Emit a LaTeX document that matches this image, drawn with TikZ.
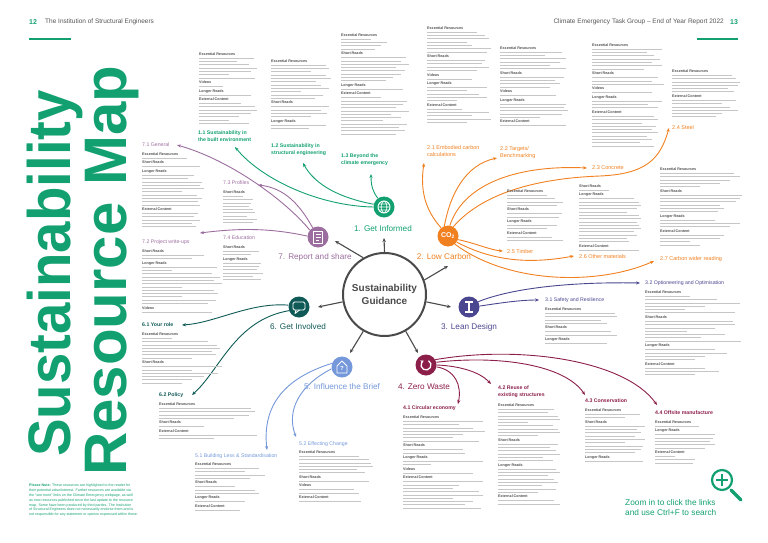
\documentclass[tikz,border=0pt]{standalone}
\usepackage{fontspec}
\setmainfont{Liberation Sans}
\usepackage{graphicx}
\usetikzlibrary{arrows.meta}
\setlength\parindent{0pt}
\definecolor{cg}{HTML}{12A070}
\definecolor{corange}{HTML}{F08020}
\definecolor{cnavy}{HTML}{4A468F}
\definecolor{cmaroon}{HTML}{8C1F4A}
\definecolor{cblue}{HTML}{7498DA}
\definecolor{cteal}{HTML}{0F5A56}
\definecolor{cmauve}{HTML}{9C6D9F}
\definecolor{cdark}{HTML}{4A4A4A}
\definecolor{hdc}{HTML}{505050}
\definecolor{txc}{HTML}{C6C6C6}
\definecolor{hgray}{HTML}{555555}
\newcommand\rmH[1]{\par\vspace{1pt}{\fontsize{3.7}{4.2}\selectfont\bfseries\color{hdc}#1\par}}
\newcommand\rmL[1]{{\color{txc}\foreach \rmw in {#1}{\rule{\rmw pt}{0.8pt}\par}}}
\begin{document}
\begin{tikzpicture}[x=1pt,y=-1pt,
  carrow/.style={draw=cdark, line width=1.1pt, -{Stealth[length=4pt,width=3.4pt]}},
  br/.style={line width=0.9pt, -{Stealth[length=4pt,width=3.2pt]}},
  icon/.style={circle, fill=#1, minimum size=21pt, inner sep=0pt},
  ilab/.style={font=\fontsize{8.2}{9}\selectfont, text=#1, inner sep=1pt},
  slab/.style={anchor=west, inner sep=0pt, text=#1, font=\fontsize{5.2}{6.6}\selectfont, align=left},
  olab/.style={anchor=west, inner sep=0pt, text=corange, font=\fontsize{5.5}{7.6}\selectfont, align=left},
  blk/.style={anchor=north west, inner sep=0pt, text width=#1, align=left, font=\fontsize{2.6}{3.3}\selectfont},
  wicon/.style={draw=white, line width=0.9pt}]
\useasboundingbox (0,0) rectangle (768,543);

% header
\node[anchor=west, inner sep=0, text=cg, font=\bfseries\fontsize{7}{8}\selectfont] (p12) at (29,22) {12};
\node[anchor=west, inner sep=0, text=hgray, font=\fontsize{6.5}{8}\selectfont] (hl) at (45,22) {The Institution of Structural Engineers};
\draw[cg, line width=1.3pt] (29,39) -- (71,39);
\node[anchor=east, inner sep=0, text=hgray, font=\fontsize{6.5}{8}\selectfont] (hr) at (724,22) {Climate Emergency Task Group – End of Year Report 2022};
\node[anchor=west, inner sep=0, text=cg, font=\bfseries\fontsize{7}{8}\selectfont] (p13) at (730,22) {13};
\draw[cg, line width=1.3pt] (697,39) -- (738,39);

% title
\node[rotate=90, anchor=base west, inner sep=0pt, text=cg, font=\fontsize{60}{60}\selectfont\bfseries] (tt1) at (70,457) {\scalebox{0.94}[1]{Sustainability}};
\node[rotate=90, anchor=base west, inner sep=0pt, text=cg, font=\fontsize{60}{60}\selectfont\bfseries] (tt2) at (126,476) {Resource Map};

% note
\node[anchor=north west, inner sep=0pt, text=cg, font=\fontsize{3.6}{4.8}\selectfont, align=left] (note) at (29,484) {\textbf{Please Note:} These resources are highlighted to the reader for\\their potential value/interest. Further resources are available via\\the “see more” links on the Climate Emergency webpage, as well\\as new resources published since the last update to the resource\\map. Some have been produced by third parties. The Institution\\of Structural Engineers does not necessarily endorse them and is\\not responsible for any statement or opinion expressed within these.};

% zoom hint
\draw[cg, line width=2.2pt] (722,480) circle (10);
\draw[cg, line width=1.6pt] (716,480) -- (728,480) (722,474) -- (722,486);
\draw[cg, line width=3.5pt, line cap=round] (731,490) -- (741,500);
\node[anchor=north west, inner sep=0pt, text=cg, font=\fontsize{8.3}{10}\selectfont, align=left] (zoomtxt) at (625,499) {Zoom in to click the links\\and use Ctrl+F to search};

% centre
\node[circle, draw=cdark, line width=2pt, minimum size=83pt, inner sep=0pt, align=center, text=cdark, font=\bfseries\fontsize{10}{13}\selectfont] (c) at (384.5,294.5) {Sustainability\\Guidance};

% icons
\node[icon=cg] (n1) at (384,207) {};
\node[icon=corange] (n2) at (448,236) {\textcolor{white}{\bfseries\fontsize{7}{7}\selectfont CO\textsubscript{2}}};
\node[icon=cnavy] (n3) at (469,307) {};
\node[icon=cmaroon] (n4) at (426,365) {};
\node[icon=cblue] (n5) at (342,367) {};
\node[icon=cteal] (n6) at (299,307) {};
\node[icon=cmauve] (n7) at (318,237) {};

\begin{scope}[shift={(n1.center)}]
  \draw[wicon] (0,0) circle (6);
  \draw[white, line width=0.6pt] (0,0) ellipse (2.8 and 6) (-6,0) -- (6,0) (-5.2,-3) -- (5.2,-3) (-5.2,3) -- (5.2,3);
\end{scope}
\begin{scope}[shift={(n3.center)}]
  \draw[white, line width=1.3pt] (-4,-5) -- (4,-5) (0,-5) -- (0,5) (-4,5) -- (4,5);
\end{scope}
\begin{scope}[shift={(n4.center)}]
  \draw[white, line width=1.3pt, -{Stealth[length=3pt,width=3.5pt]}] (-60:5) arc (-60:240:5);
\end{scope}
\begin{scope}[shift={(n5.center)}]
  \draw[wicon, line join=round] (-5,6) -- (-5,-1) -- (0,-6) -- (5,-1) -- (5,6) -- cycle;
  \node[text=white, inner sep=0, font=\bfseries\fontsize{6}{6}\selectfont] (qm) at (0,1.5) {?};
\end{scope}
\begin{scope}[shift={(n6.center)}]
  \draw[wicon, rounded corners=1.5pt] (-6,-5) rectangle (6,3);
  \draw[wicon, line join=round] (-3,3) -- (-4,6.5) -- (0.5,3);
\end{scope}
\begin{scope}[shift={(n7.center)}]
  \draw[wicon] (-4.5,-6) rectangle (4.5,6);
  \draw[white, line width=0.8pt] (-2.5,-3) -- (2.5,-3) (-2.5,0) -- (2.5,0) (-2.5,3) -- (1,3);
\end{scope}

% icon labels
\node[ilab=cg] (l1) at (383,229) {1. Get Informed};
\node[ilab=corange] (l2) at (444,257) {2. Low Carbon};
\node[ilab=cnavy] (l3) at (469,327) {3. Lean Design};
\node[ilab=cmaroon] (l4) at (424,387) {4. Zero Waste};
\node[ilab=cblue] (l5) at (342,387) {5. Influence the Brief};
\node[ilab=cteal] (l6) at (298,327) {6. Get Involved};
\node[ilab=cmauve] (l7) at (315,257) {7. Report and share};

% central arrows
\coordinate (e1) at (384,238);
\coordinate (e2) at (448,266);
\coordinate (e3) at (451,307);
\coordinate (e4) at (418,353);
\coordinate (e5) at (350,353);
\coordinate (e6) at (318,307);
\coordinate (e7) at (335,241);
\draw[carrow] (c.90) -- (e1);
\draw[carrow] (c.20) -- (e2);
\draw[carrow] (c.-10) -- (e3);
\draw[carrow] (c.300) -- (e4);
\draw[carrow] (c.240) -- (e5);
\draw[carrow] (c.190) -- (e6);
\draw[carrow] (c.120) -- (e7);

% section labels
\node[slab=cg, anchor=north west, font=\bfseries\fontsize{5.2}{6.6}\selectfont] (s11) at (198,131) {1.1 Sustainability in\\the built environment};
\node[slab=cg, anchor=north west, font=\bfseries\fontsize{5.2}{6.6}\selectfont] (s12) at (271,144) {1.2 Sustainability in\\structural engineering};
\node[slab=cg, anchor=north west, font=\bfseries\fontsize{5.2}{6.6}\selectfont] (s13) at (341,154) {1.3 Beyond the\\climate emergency};
\node[olab, anchor=north west] (s21) at (427,145) {2.1 Embodied carbon\\calculations};
\node[olab, anchor=north west] (s22) at (500,146) {2.2 Targets/\\Benchmarking};
\node[olab] (s23) at (592,168) {2.3 Concrete};
\node[olab] (s24) at (672,128) {2.4 Steel};
\node[olab] (s25) at (507,252) {2.5 Timber};
\node[olab] (s26) at (579,257) {2.6 Other materials};
\node[olab] (s27) at (660,259) {2.7 Carbon wider reading};
\node[slab=cnavy] (s31) at (545,300) {3.1 Safety and Resilience};
\node[slab=cnavy] (s32) at (645,283) {3.2 Optioneering and Optimisation};
\node[slab=cmaroon, font=\bfseries\fontsize{5.2}{6.6}\selectfont] (s41) at (403,408) {4.1 Circular economy};
\node[slab=cmaroon, anchor=north west, font=\bfseries\fontsize{5.2}{6.6}\selectfont] (s42) at (498,386) {4.2 Reuse of\\existing structures};
\node[slab=cmaroon, font=\bfseries\fontsize{5.2}{6.6}\selectfont] (s43) at (585,401) {4.3 Conservation};
\node[slab=cmaroon, font=\bfseries\fontsize{5.2}{6.6}\selectfont] (s44) at (655,413) {4.4 Offsite manufacture};
\node[slab=cblue] (s51) at (195,456) {5.1 Building Less \& Standardisation};
\node[slab=cblue] (s52) at (299,444) {5.2 Effecting Change};
\node[slab=cteal, font=\bfseries\fontsize{5.2}{6.6}\selectfont] (s61) at (142,325) {6.1 Your role};
\node[slab=cteal, font=\bfseries\fontsize{5.2}{6.6}\selectfont] (s62) at (159,395) {6.2 Policy};
\node[slab=cmauve] (s71) at (142,145) {7.1 General};
\node[slab=cmauve] (s72) at (142,242) {7.2 Project write-ups};
\node[slab=cmauve] (s73) at (223,183) {7.3 Profiles};
\node[slab=cmauve] (s74) at (223,238) {7.4 Education};

% arrow tips beside the section labels
\coordinate (t11) at (235,147);
\coordinate (t12) at (303,163);
\coordinate (t13) at (371,174);
\coordinate (t21) at (424,163);
\coordinate (t22) at (497,158);
\coordinate (t23) at (587,168);
\coordinate (t24) at (669,128);
\coordinate (t25) at (503,251);
\coordinate (t26) at (574,256);
\coordinate (t27) at (654,261);
\coordinate (t31) at (539,300);
\coordinate (t32) at (640,283);
\coordinate (t41) at (458,404);
\coordinate (t42) at (491,384);
\coordinate (t43) at (585,395);
\coordinate (t44) at (657,405);
\coordinate (t51) at (267,450);
\coordinate (t52) at (296,437);
\coordinate (t61) at (182,325);
\coordinate (t62) at (192,395);
\coordinate (t71) at (177,145);
\coordinate (t72) at (200,233);
\coordinate (t73) at (258,185);

% branch connectors
\draw[br, draw=cg] (n1.180) .. controls (320,206) and (262,180) .. (t11);
\draw[br, draw=cg] (n1.165) .. controls (340,198) and (315,185) .. (t12);
\draw[br, draw=cg] (n1.125) .. controls (373,192) and (371,186) .. (t13);

\draw[br, draw=corange] (n2.130) .. controls (425,210) and (420,190) .. (t21);
\draw[br, draw=corange] (n2.110) .. controls (450,195) and (465,165) .. (t22);
\draw[br, draw=corange] (n2.80) .. controls (465,180) and (525,165) .. (t23);
\draw[br, draw=corange] (n2.60) .. controls (485,190) and (545,178) .. (600,176) .. controls (645,174) and (660,160) .. (t24);
\draw[br, draw=corange] (n2.-20) .. controls (475,243) and (490,250) .. (t25);
\draw[br, draw=corange] (n2.-35) .. controls (500,265) and (540,262) .. (t26);
\draw[br, draw=corange] (n2.-50) .. controls (510,285) and (600,285) .. (t27);

\draw[br, draw=cnavy] (n3.5) .. controls (500,303) and (520,300) .. (t31);
\draw[br, draw=cnavy] (n3.30) .. controls (520,285) and (590,282) .. (t32);

\draw[br, draw=cmaroon] (n4.-10) .. controls (455,370) and (462,385) .. (t41);
\draw[br, draw=cmaroon] (n4.0) .. controls (460,366) and (480,372) .. (t42);
\draw[br, draw=cmaroon] (n4.15) .. controls (500,355) and (565,365) .. (t43);
\draw[br, draw=cmaroon] (n4.30) .. controls (520,345) and (625,360) .. (t44);

\draw[br, draw=cblue] (n5.160) .. controls (285,378) and (262,405) .. (t51);
\draw[br, draw=cblue] (n5.190) .. controls (300,385) and (286,410) .. (t52);

\draw[br, draw=cteal] (n6.170) .. controls (250,302) and (215,323) .. (t61);
\draw[br, draw=cteal] (n6.200) .. controls (235,320) and (220,370) .. (t62);

\draw[br, draw=cmauve] (n7.140) .. controls (285,200) and (230,160) .. (t71);
\draw[br, draw=cmauve] (n7.175) .. controls (270,228) and (240,228) .. (t72);
\draw[br, draw=cmauve] (n7.120) .. controls (300,205) and (285,188) .. (t73);

% resource blocks
\node[blk=60pt] (b11) at (199,50) {\rmH{Essential Resources}\rmL{55,38,50,58,52,30,56}\rmH{Videos}\rmL{24}\rmH{Longer Reads}\rmL{52}\rmH{External Content}\rmL{42,56,58,52,40,30,50}};
\node[blk=62pt] (b12) at (271,57) {\rmH{Essential Resources}\rmL{55,58,40,55,60,45,50,58,30,52,44}\rmH{Short Reads}\rmL{58,50,56,40}\rmH{Longer Reads}\rmL{55,38}};
\node[blk=70pt] (b13) at (341,31) {\rmH{Essential Resources}\rmL{30,46,40,34}\rmH{Short Reads}\rmL{65,60,68,55,64,60,52,45}\rmH{Longer Reads}\rmL{62}\rmH{External Content}\rmL{40,66,62,55,68,50,60,42,66,58,64,55}};
\node[blk=66pt] (b21) at (427,24) {\rmH{Essential Resources}\rmL{50,58,62,40,45,64,60}\rmH{Short Reads}\rmL{58,55,62,50}\rmH{Videos}\rmL{45}\rmH{Longer Reads}\rmL{60,40,52,60,30}\rmH{External Content}\rmL{35,62,45,64,40}};
\node[blk=68pt] (b22) at (500,44) {\rmH{Essential Resources}\rmL{62,45,66,60,50,66}\rmH{Short Reads}\rmL{64,55,60,50}\rmH{Videos}\rmL{56}\rmH{Longer Reads}\rmL{66,64,68,62,40}\rmH{External Content}\rmL{66}};
\node[blk=72pt] (b23) at (592,41) {\rmH{Essential Resources}\rmL{70,55,62,68,60,70,52}\rmH{Short Reads}\rmL{66,60,72}\rmH{Videos}\rmL{60}\rmH{Longer Reads}\rmL{70,56,66}\rmH{External Content}\rmL{62,66,50,64,60,66,55,60,48,62}};
\node[blk=68pt] (b24) at (672,67) {\rmH{Essential Resources}\rmL{60,64,68,66,56,62}\rmH{External Content}\rmL{64,50,58,66,50,44}};
\node[blk=82pt] (b27) at (660,165) {\rmH{Essential Resources}\rmL{74,80,70,60,40}\rmH{Short Reads}\rmL{82,80,76,60,64,58}\rmH{Longer Reads}\rmL{55,80,70}\rmH{External Content}\rmL{64,60,30,40}};
\node[blk=56pt] (b25) at (507,187) {\rmH{Essential Resources}\rmL{40,48,56,50}\rmH{Short Reads}\rmL{55,52}\rmH{Longer Reads}\rmL{50,40}\rmH{External Content}\rmL{45,56}};
\node[blk=62pt] (b26) at (579,182) {\rmH{Short Reads}\rmL{30}\rmH{Longer Reads}\rmL{55,60,62,58,48,60,62,58,60,62,55,58,48,50}\rmH{External Content}\rmL{60}};
\node[blk=76pt] (b31) at (545,305) {\rmH{Essential Resources}\rmL{70,72,56,62}\rmH{Short Reads}\rmL{66,72}\rmH{Longer Reads}\rmL{62}};
\node[blk=100pt] (b32) at (645,288) {\rmH{Essential Resources}\rmL{45,72,95,60,40,90}\rmH{Short Reads}\rmL{88,90,70,42,80,56,96}\rmH{Longer Reads}\rmL{70,82,60,50}\rmH{External Content}\rmL{60,74,50}};
\node[blk=82pt] (b41) at (403,413) {\rmH{Essential Resources}\rmL{80,56,70,82,60,50,76}\rmH{Short Reads}\rmL{60,62}\rmH{Longer Reads}\rmL{80,28}\rmH{Videos}\rmL{70}\rmH{External Content}\rmL{80,56,50,76,80,50,70,62,78}};
\node[blk=62pt] (b42) at (498,401) {\rmH{Essential Resources}\rmL{56,50,60,62,30,55,60,62,40}\rmH{Short Reads}\rmL{60,52,58,62,45,55}\rmH{Longer Reads}\rmL{58,62,50,56,60,44,58,40}\rmH{External Content}\rmL{56,62}};
\node[blk=60pt] (b43) at (585,406) {\rmH{Essential Resources}\rmL{55,40}\rmH{Short Reads}\rmL{60,52,56,50,60,40,58,56,50}\rmH{Longer Reads}\rmL{58}};
\node[blk=62pt] (b44) at (655,418) {\rmH{Essential Resources}\rmL{44}\rmH{Longer Reads}\rmL{60,58,55,60,50}\rmH{External Content}\rmL{20,40,38}};
\node[blk=70pt] (b51) at (195,460) {\rmH{Essential Resources}\rmL{64,50,70,55}\rmH{Short Reads}\rmL{40,60,64}\rmH{Longer Reads}\rmL{50}\rmH{External Content}\rmL{45}};
\node[blk=76pt] (b52) at (299,448) {\rmH{Essential Resources}\rmL{60,70,72,74,58,66}\rmH{Short Reads}\rmL{70}\rmH{Videos}\rmL{55,60}\rmH{External Content}\rmL{62}};
\node[blk=80pt] (b61) at (142,330) {\rmH{Essential Resources}\rmL{30,66,75,78,70,74,50}\rmH{Short Reads}\rmL{80,50,76,62,50,40}};
\node[blk=98pt] (b62) at (159,400) {\rmH{Essential Resources}\rmL{92,96,90,75}\rmH{Short Reads}\rmL{45}\rmH{External Content}\rmL{98,55}};
\node[blk=62pt] (b71) at (142,150) {\rmH{Essential Resources}\rmL{45}\rmH{Short Reads}\rmL{58}\rmH{Longer Reads}\rmL{52,46,60,58,62,40,55,60,56,58}\rmH{External Content}\rmL{56,52,58,50,54}};
\node[blk=80pt] (b72) at (142,247) {\rmH{Short Reads}\rmL{62,50}\rmH{Longer Reads}\rmL{75,30,70,78,72,80,40,72,76,40,74,66}\rmH{Videos}\rmL{70}};
\node[blk=36pt] (b73) at (223,188) {\rmH{Short Reads}\rmL{20,30,28,26,30,32,24,34,30}};
\node[blk=40pt] (b74) at (223,243) {\rmH{Short Reads}\rmL{36,28}\rmH{Longer Reads}\rmL{38,36,34,40,30,38}};
\end{tikzpicture}
\end{document}
